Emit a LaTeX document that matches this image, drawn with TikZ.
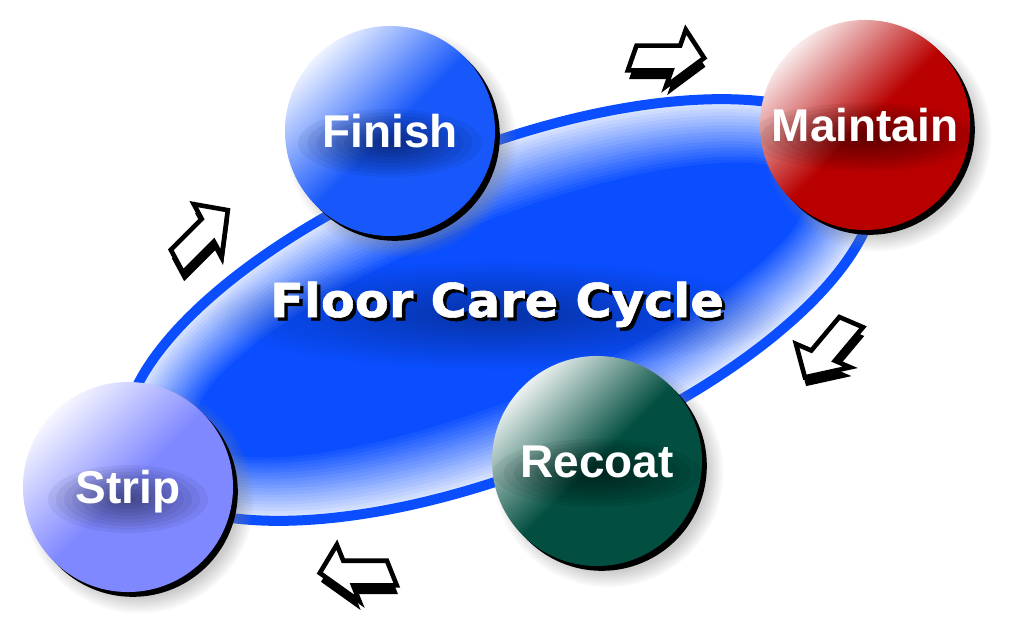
\documentclass[tikz,border=0pt]{standalone}
\usepackage{fontspec}
\usepackage{xcolor}
\usetikzlibrary{shapes,arrows,positioning,shadows,fadings}
\newfontfamily\stagefont{Liberation Sans}
\newfontfamily\titlefont{DejaVu Sans}[FakeStretch=1.06, BoldFeatures={FakeBold=1.2}]
\definecolor{ringblue}{RGB}{10,78,255}
\definecolor{finishblue}{RGB}{24,88,250}
\definecolor{maintainred}{RGB}{185,0,0}
\definecolor{recoatgreen}{RGB}{2,78,64}
\definecolor{stripblue}{RGB}{128,136,255}
\tikzfading[name=haze, inner color=transparent!35, outer color=transparent!100]
% white text with a hard black shadow
\newcommand{\dropped}[1]{\makebox[0pt][l]{\kern2.4pt\raisebox{-2.4pt}{\color{black}#1}}#1}

\begin{document}
\begin{tikzpicture}[x=0.025cm, y=0.025cm,
  stage/.style 2 args={circle, minimum size=5.25cm, inner sep=0pt, text=white,
    font=\stagefont\bfseries\fontsize{32.7}{38}\selectfont, text height=23.4pt, text depth=0pt,
    top color=#1!8!white, bottom color=#1, middle color=#1, shading angle=45,
    circular drop shadow={shadow xshift=0.25cm, shadow yshift=-0.25cm, opacity=.4},
    general shadow={fill=black, shadow xshift=0.12cm, shadow yshift=-0.12cm},
    path picture={\foreach \s in {1,...,10}
      \fill[black, opacity=.055] ([yshift=-0.3cm]path picture bounding box.center)
        ellipse ({#2*\s/10} and {0.85cm*\s/10});}},
  turn/.style={single arrow, draw=black, fill=white, line width=3.3pt, line join=miter,
    inner xsep=0pt, inner ysep=0.25cm, minimum height=1.8cm, single arrow head extend=0.4cm,
    transform shape, general shadow={fill=black, shadow xshift=0.03cm, shadow yshift=-0.22cm}}]
\path[use as bounding box, fill=white] (0,0) rectangle (1024,641);

% Ring with inner glow
\begin{scope}[shift={(500,331)}, rotate=22]
  \foreach \k [evaluate=\k as \m using {int(12+\k*88/20)}] in {0,...,20}
    \fill[ringblue!\m!white] (0,0) ellipse ({400-3.6*\k} and {160-3.6*\k});
  \draw[ringblue, line width=0.25cm] (0,0) ellipse (400 and 160);
\end{scope}

% Title
\coordinate (mid) at (497,326);
\fill[black, opacity=.55, path fading=haze] (mid) ellipse (290 and 55);
\node[font=\titlefont\bfseries\fontsize{33.2}{40}\selectfont, text=white, anchor=base] (title) at (497,324) {\dropped{Floor Care Cycle}};

% Stages
\node[stage={finishblue}{2.3cm}] (finish) at (390,510) {Finish};
\node[stage={maintainred}{2.9cm}] (maintain) at (865,516) {Maintain};
\node[stage={recoatgreen}{2.6cm}] (recoat) at (597,180) {Recoat};
\node[stage={stripblue}{2cm}] (strip) at (128,154) {Strip};

% Flow arrows
\node[turn, xslant=.35] (tomaintain) at (662,583) {};
\node[turn, rotate=230, xslant=-.3] (torecoat) at (832,296) {};
\node[turn, rotate=180, xslant=-.4] (tostrip) at (362,68) {};
\node[turn, rotate=45, xslant=.3] (tofinish) at (198,401) {};
\end{tikzpicture}
\end{document}
